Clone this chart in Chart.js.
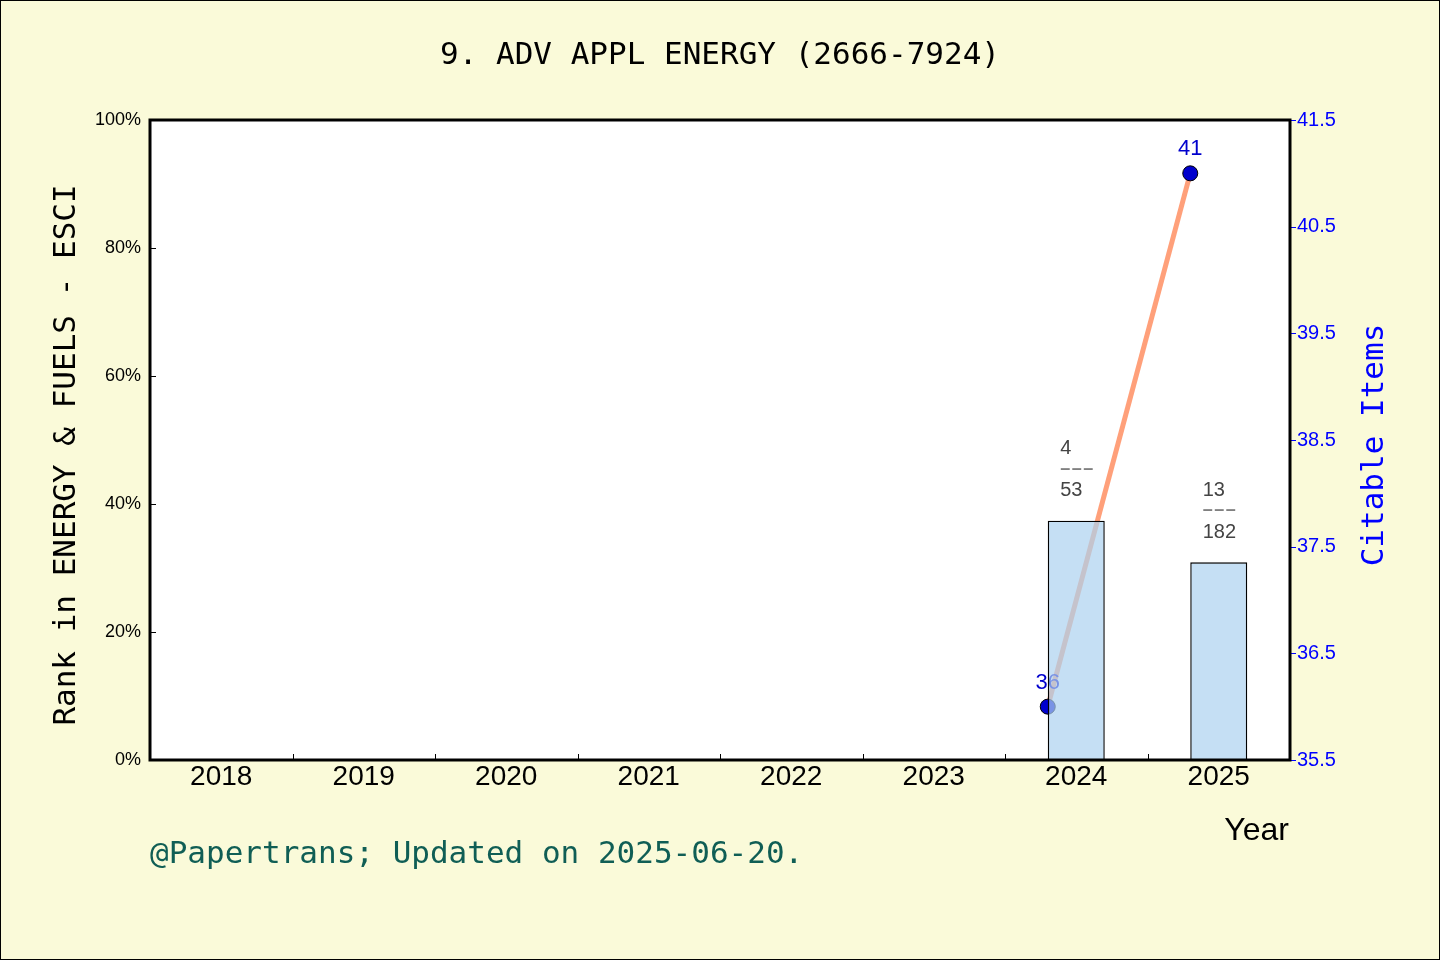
<!DOCTYPE html>
<html>
<head>
<meta charset="utf-8">
<script src="https://cdn.jsdelivr.net/npm/chart.js@4.4.1/dist/chart.umd.min.js"></script>
<style>
html,body{margin:0;padding:0;background:#FAFAD9;}
#wrap{width:1440px;height:960px;position:relative;}
canvas{display:block;}
</style>
</head>
<body>
<div id="wrap"><canvas id="c" width="1440" height="960"></canvas></div>
<script>
// ---- data ----
const years = ['2018','2019','2020','2021','2022','2023','2024','2025'];
const rankPercent = [null, null, null, null, null, null, 37.4, 30.9];
const citableItems = [null, null, null, null, null, null, 36, 41];
const rankNumber = [null, null, null, null, null, null, 4, 13];
const rankTotal = [null, null, null, null, null, null, 53, 182];
const leftTicks = [0, 20, 40, 60, 80, 100];
const rightTicks = [35.5, 36.5, 37.5, 38.5, 39.5, 40.5, 41.5];
const titleText = '9. ADV APPL ENERGY (2666-7924)';
const leftTitle = 'Rank in ENERGY & FUELS - ESCI';
const rightTitle = 'Citable Items';
const xTitle = 'Year';
const footerText = '@Papertrans; Updated on 2025-06-20.';

// ---- styles ----
const BG = '#FAFAD9';
const MONO = "'DejaVu Sans Mono', monospace";
const SANS = "'Liberation Sans', Arial, sans-serif";
const BLUE = '#0000FF';

const lineData = citableItems
  .map((v, i) => (v === null ? null : { x: i, y: v }))
  .filter(p => p !== null);

const decor = {
  id: 'decor',
  beforeDraw(chart) {
    const { ctx, chartArea: a } = chart;
    ctx.save();
    ctx.fillStyle = BG;
    ctx.fillRect(0, 0, chart.width, chart.height);
    ctx.fillStyle = '#FFFFFF';
    ctx.fillRect(a.left, a.top, a.right - a.left, a.bottom - a.top);
    ctx.restore();
  },
  afterDatasetDraw(chart, args) {
    if (args.meta.type !== 'line') return;
    const { ctx } = chart;
    ctx.save();
    ctx.font = '22px ' + SANS;
    ctx.fillStyle = '#0000CD';
    ctx.textAlign = 'center';
    ctx.textBaseline = 'middle';
    args.meta.data.forEach((pt, i) => {
      const v = lineData[i].y;
      ctx.fillText(String(v), pt.x, pt.y - 24);
    });
    ctx.restore();
  },
  afterDatasetsDraw(chart) {
    const { ctx, chartArea: a, scales } = chart;
    const barMeta = chart.getDatasetMeta(0);
    ctx.save();
    // bar annotations
    ctx.textAlign = 'left';
    ctx.textBaseline = 'middle';
    barMeta.data.forEach((bar, i) => {
      if (rankPercent[i] === null) return;
      const x0 = scales.x.getPixelForValue(i) - 16;
      const top = bar.y;
      ctx.font = '20px ' + SANS;
      ctx.fillStyle = '#444444';
      ctx.fillText(String(rankNumber[i]), x0, top - 72);
      ctx.fillText(String(rankTotal[i]), x0, top - 30);
      ctx.font = 'bold 18px ' + SANS;
      ctx.fillStyle = '#808080';
      ctx.letterSpacing = '1.5px';
      ctx.fillText('\u2013\u2013\u2013', x0, top - 52);
      ctx.letterSpacing = '0px';
    });
    // inner ticks left
    ctx.strokeStyle = '#000';
    ctx.lineWidth = 1;
    leftTicks.forEach(v => {
      const y = Math.round(scales.y.getPixelForValue(v)) + 0.5;
      ctx.beginPath(); ctx.moveTo(a.left, y); ctx.lineTo(a.left + 6, y); ctx.stroke();
    });
    // inner ticks bottom at category boundaries
    for (let i = 0; i < years.length - 1; i++) {
      const x = Math.round((scales.x.getPixelForValue(i) + scales.x.getPixelForValue(i + 1)) / 2) + 0.5;
      ctx.beginPath(); ctx.moveTo(x, a.bottom); ctx.lineTo(x, a.bottom - 6); ctx.stroke();
    }
    // right outer ticks
    ctx.strokeStyle = BLUE;
    rightTicks.forEach(v => {
      const y = Math.round(scales.y2.getPixelForValue(v)) + 0.5;
      ctx.beginPath(); ctx.moveTo(a.right, y); ctx.lineTo(a.right + 6, y); ctx.stroke();
    });
    // frame
    ctx.strokeStyle = '#000';
    ctx.lineWidth = 3;
    ctx.strokeRect(a.left, a.top, a.right - a.left, a.bottom - a.top);
    ctx.restore();
  },
  afterDraw(chart) {
    const { ctx, chartArea: a } = chart;
    ctx.save();
    // title
    ctx.fillStyle = '#000';
    ctx.font = '31px ' + MONO;
    ctx.textAlign = 'center';
    ctx.textBaseline = 'middle';
    ctx.fillText(titleText, chart.width / 2, 56);
    // left axis title
    ctx.save();
    ctx.translate(67, (a.top + a.bottom) / 2 + 15);
    ctx.rotate(-Math.PI / 2);
    ctx.fillText(leftTitle, 0, 0);
    ctx.restore();
    // right axis title
    ctx.save();
    ctx.fillStyle = BLUE;
    ctx.translate(1375, (a.top + a.bottom) / 2 + 5);
    ctx.rotate(-Math.PI / 2);
    ctx.fillText(rightTitle, 0, 0);
    ctx.restore();
    // x title
    ctx.font = '32px ' + SANS;
    ctx.textAlign = 'right';
    ctx.textBaseline = 'alphabetic';
    ctx.fillText(xTitle, a.right - 1, 840);
    // footer
    ctx.font = '31px ' + MONO;
    ctx.fillStyle = '#105E55';
    ctx.textAlign = 'left';
    ctx.textBaseline = 'middle';
    ctx.fillText(footerText, a.left, 855);
    // outer border
    ctx.strokeStyle = '#000';
    ctx.lineWidth = 1;
    ctx.strokeRect(0.5, 0.5, chart.width - 1, chart.height - 1);
    ctx.restore();
  }
};

new Chart(document.getElementById('c'), {
  data: {
    labels: years,
    datasets: [
      {
        type: 'bar',
        data: rankPercent,
        xAxisID: 'x',
        yAxisID: 'y',
        backgroundColor: 'rgba(172,209,240,0.7)',
        borderColor: '#000',
        borderWidth: 1.4,
        barPercentage: 0.4,
        categoryPercentage: 1,
        grouped: false,
        order: 1
      },
      {
        type: 'line',
        data: lineData,
        xAxisID: 'x2',
        yAxisID: 'y2',
        borderColor: 'rgb(255,160,122)',
        borderWidth: 5,
        pointRadius: 7.5,
        pointBackgroundColor: '#0000CD',
        pointBorderColor: '#000',
        pointBorderWidth: 1,
        tension: 0,
        clip: false,
        order: 2
      }
    ]
  },
  options: {
    responsive: false,
    devicePixelRatio: 1,
    animation: false,
    layout: { padding: { top: 120, left: 0, right: 0, bottom: 0 } },
    plugins: { legend: { display: false }, tooltip: { enabled: false } },
    scales: {
      x: {
        type: 'category',
        position: 'bottom',
        offset: true,
        grid: { display: false, drawTicks: false },
        border: { display: false },
        ticks: { color: '#000', font: { family: SANS, size: 28 }, padding: 0, maxRotation: 0, autoSkip: false },
        afterFit(s) { s.height = 200; }
      },
      x2: {
        type: 'linear',
        display: false,
        min: -0.3,
        max: 7.7
      },
      y: {
        type: 'linear',
        position: 'left',
        min: 0,
        max: 100,
        grid: { display: false, drawTicks: false },
        border: { display: false },
        ticks: { stepSize: 20, color: '#000', font: { family: SANS, size: 18 }, padding: 9, callback: v => v + '%' },
        afterBuildTicks(s) { s.ticks = leftTicks.map(v => ({ value: v })); },
        afterFit(s) { s.width = 150; }
      },
      y2: {
        type: 'linear',
        position: 'right',
        min: 35.5,
        max: 41.5,
        grid: { display: false, drawTicks: false },
        border: { display: false },
        ticks: { color: BLUE, font: { family: SANS, size: 20 }, padding: 7, callback: v => v.toFixed(1) },
        afterBuildTicks(s) { s.ticks = rightTicks.map(v => ({ value: v })); },
        afterFit(s) { s.width = 150; }
      }
    }
  },
  plugins: [decor]
});
</script>
</body>
</html>
